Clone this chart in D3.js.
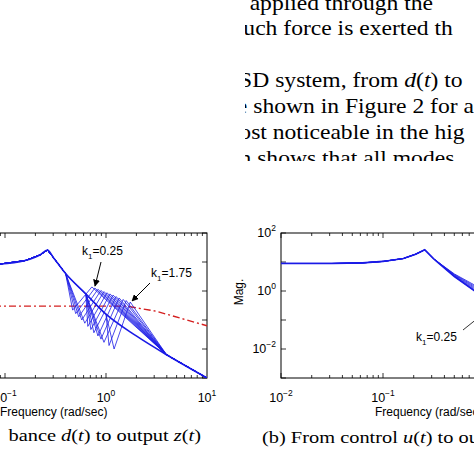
<!DOCTYPE html>
<html><head><meta charset="utf-8">
<script src="https://cdn.jsdelivr.net/npm/d3@7"></script>
<style>body{margin:0;background:#fff}svg{display:block}</style>
</head><body><div id="chart"></div>
<script>
// paragraph lines (clipped on the left as in the page)
const paraLines = ["is applied through the", "much force is exerted th", "SSD system, from <tspan font-style='italic'>d</tspan>(<tspan font-style='italic'>t</tspan>) to", "re shown in Figure 2 for a", "most noticeable in the hig", "ch shows that all modes"];
const paraY = [10, 35, 87, 113, 139, 165];

// panel (a): disturbance d(t) -> z(t), values as log10
const mainA_f = [-2, -1.05, -0.8, -0.65, -0.58, -0.52, -0.4, -0.2, 0, 0.3, 0.6, 1];
const mainA_m = [0.85, 0.93, 1.05, 1.25, 1.41, 1.15, 0.6, -0.1, -0.8, -1.55, -2.2, -3.0];
const k1 = [0.25, 0.375, 0.5, 0.625, 0.75, 0.875, 1.0, 1.125, 1.25, 1.375, 1.5, 1.625, 1.75];
const dipF = [-0.33, -0.30, -0.27, -0.24, -0.21, -0.18, -0.15, -0.12, -0.08, -0.05, -0.02, 0.03, 0.08];
const dipM = [-0.66, -0.78, -0.89, -1.0, -1.11, -1.22, -1.33, -1.44, -1.55, -1.66, -1.77, -1.88, -2.0];
const peakF = [-0.14, -0.11, -0.08, -0.05, -0.02, 0.01, 0.04, 0.07, 0.10, 0.13, 0.17, 0.20, 0.24];
const peakM = [0.14, 0.10, 0.06, 0.02, -0.02, -0.06, -0.10, -0.14, -0.19, -0.24, -0.29, -0.33, -0.38];
const redF = [-2, 0.2, 0.5, 1];
const redM = [-0.52, -0.52, -0.7, -1.2];

// panel (b): control u(t) -> z(t)
const mainB_f = [-2, -1.5, -1.2, -1, -0.8, -0.68, -0.59, -0.5, -0.3, -0.11, 0, 0.3];
const mainB_m = [0.95, 0.95, 0.97, 1.02, 1.12, 1.27, 1.42, 1.1, 0.5, 0.02, -0.2, -0.8];
const spreadB = [0, 0.04, 0.08, 0.12, 0.16, 0.2];

const W = 474, H = 474;
const svg = d3.select("#chart").append("svg").attr("width", W).attr("height", H);
const serif = "'Liberation Serif', 'DejaVu Serif', serif";
const sans = "'Liberation Sans', Arial, sans-serif";

// paragraph
svg.append("clipPath").attr("id", "pclip").append("rect").attr("x", 245).attr("y", 0).attr("width", 240).attr("height", 161);
const para = svg.append("g").attr("clip-path", "url(#pclip)");
const paraStart = [228, 225, 226, 229, 221, 229];
paraLines.forEach((t, i) => {
    para.append("text").attr("transform", `translate(${paraStart[i]},${paraY[i]}) scale(1.18,1)`)
        .style("font-family", serif).style("font-size", "20px").html(t);
});

function sup(sel, base, exp) {
    sel.append("tspan").text(base);
    sel.append("tspan").attr("dy", -6).style("font-size", "8.5px").text(exp);
}

function panel(id, x0, x1, fdom) {
    const x = d3.scaleLinear().domain(fdom).range([x0, x1]);
    const y = d3.scaleLinear().domain([-3, 2]).range([378, 233]);
    const g = svg.append("g");
    svg.append("clipPath").attr("id", id).append("rect")
        .attr("x", x0).attr("y", 233).attr("width", x1 - x0).attr("height", 145);
    const ticks = g.append("g");
    for (let d = Math.ceil(fdom[0]); d < fdom[1]; d++) {
        for (let k = 1; k <= 9; k++) {
            const v = d + Math.log10(k);
            const len = k === 1 ? 5 : 3;
            [[378, -len], [233, len]].forEach(([yy, l]) => ticks.append("line")
                .attr("x1", x(v)).attr("x2", x(v)).attr("y1", yy).attr("y2", yy + l));
        }
    }
    for (let e = -3; e <= 2; e++) {
        [[x0, 5], [x1, -5]].forEach(([xx, l]) => ticks.append("line")
            .attr("x1", xx).attr("x2", xx + l).attr("y1", y(e)).attr("y2", y(e)));
    }
    ticks.selectAll("line").attr("stroke", "#000").attr("stroke-width", 0.8);
    g.append("rect").attr("x", x0).attr("y", 233).attr("width", x1 - x0).attr("height", 145)
        .attr("fill", "none").attr("stroke", "#000").attr("stroke-width", 1);
    const plot = svg.append("g").attr("clip-path", `url(#${id})`);
    const line = d3.line().x(d => x(d[0])).y(d => y(d[1]));
    return {x, y, g, plot, line};
}

// panel a
const A = panel("ca", -96, 207, [-2, 1]);
A.plot.append("path").datum(d3.zip(redF, redM)).attr("d", A.line)
    .attr("fill", "none").attr("stroke", "#d42020").attr("stroke-width", 1.4).attr("stroke-dasharray", "7,3,2,3");
k1.forEach((k, i) => {
    const pts = d3.zip(mainA_f, mainA_m).filter(p => p[0] < dipF[i] - 0.02);
    pts.push([dipF[i], dipM[i]], [peakF[i], peakM[i]], [0.6, -2.2], [1, -3.0]);
    A.plot.append("path").datum(pts).attr("d", A.line)
        .attr("fill", "none").attr("stroke", "#1a1ae6").attr("stroke-width", 0.8);
});
A.plot.append("path").datum(d3.zip(mainA_f, mainA_m)).attr("d", A.line.curve(d3.curveMonotoneX))
    .attr("fill", "none").attr("stroke", "#1a1ae6").attr("stroke-width", 1.6);
A.line.curve(d3.curveLinear);
[[-1, "10", "−1"], [0, "10", "0"], [1, "10", "1"]].forEach(([v, b, e]) => {
    const t = svg.append("text").attr("x", A.x(v)).attr("y", 402).attr("text-anchor", "middle")
        .style("font-family", sans).style("font-size", "12.5px");
    sup(t, b, e);
});
svg.append("text").attr("x", 0).attr("y", 416)
    .style("font-family", sans).style("font-size", "12px").text("Frequency (rad/sec)");
function klabel(xx, yy, v) {
    const t = svg.append("text").attr("x", xx).attr("y", yy).style("font-family", sans).style("font-size", "12px");
    t.append("tspan").text("k");
    t.append("tspan").attr("dy", 4).style("font-size", "8px").text("1");
    t.append("tspan").attr("dy", -4).text(v);
}
svg.append("defs").append("marker").attr("id", "arr").attr("viewBox", "0 0 10 10").attr("refX", 9).attr("refY", 5)
    .attr("markerWidth", 7).attr("markerHeight", 7).attr("orient", "auto")
    .append("path").attr("d", "M0,0L10,5L0,10z").attr("fill", "#000");
klabel(82, 255, "=0.25");
klabel(151, 277, "=1.75");
[[101, 262, 95, 286], [150, 283, 132, 301]].forEach(([a, b, c, d]) =>
    svg.append("line").attr("x1", a).attr("y1", b).attr("x2", c).attr("y2", d)
        .attr("stroke", "#000").attr("stroke-width", 1).attr("marker-end", "url(#arr)"));
svg.append("text").attr("transform", "translate(201,441) scale(1.2,1)").attr("text-anchor", "end")
    .style("font-family", serif).style("font-size", "17px")
    .html("bance <tspan font-style='italic'>d</tspan>(<tspan font-style='italic'>t</tspan>) to output <tspan font-style='italic'>z</tspan>(<tspan font-style='italic'>t</tspan>)");

// panel b
const B = panel("cb", 281, 587, [-2, 1]);
spreadB.forEach(s => {
    const pts = d3.zip(mainB_f, mainB_m).map(p => [p[0], p[1] + (p[0] > -0.45 ? s * Math.min(1, (p[0] + 0.45) / 0.34) : 0)]);
    B.plot.append("path").datum(pts).attr("d", B.line)
        .attr("fill", "none").attr("stroke", "#1a1ae6").attr("stroke-width", 0.8);
});
B.plot.append("path").datum(d3.zip(mainB_f, mainB_m)).attr("d", B.line)
    .attr("fill", "none").attr("stroke", "#1a1ae6").attr("stroke-width", 1.6);
[[2, "2"], [0, "0"], [-2, "−2"]].forEach(([v, e]) => {
    const t = svg.append("text").attr("x", 276).attr("y", B.y(v) + 4).attr("text-anchor", "end")
        .style("font-family", sans).style("font-size", "12.5px");
    sup(t, "10", e);
});
[[-2, "−2"], [-1, "−1"]].forEach(([v, e]) => {
    const t = svg.append("text").attr("x", B.x(v)).attr("y", 402).attr("text-anchor", "middle")
        .style("font-family", sans).style("font-size", "12.5px");
    sup(t, "10", e);
});
svg.append("text").attr("transform", "translate(243,292) rotate(-90)").attr("text-anchor", "middle")
    .style("font-family", sans).style("font-size", "12px").text("Mag.");
svg.append("text").attr("x", 375).attr("y", 416)
    .style("font-family", sans).style("font-size", "12px").text("Frequency (rad/sec)");
klabel(416, 341, "=0.25");
svg.append("line").attr("x1", 463).attr("y1", 330).attr("x2", 478).attr("y2", 318).attr("stroke", "#000").attr("stroke-width", 0.8);
svg.append("text").attr("transform", "translate(262,443) scale(1.2,1)")
    .style("font-family", serif).style("font-size", "17px")
    .html("(b) From control <tspan font-style='italic'>u</tspan>(<tspan font-style='italic'>t</tspan>) to output");
</script></body></html>
